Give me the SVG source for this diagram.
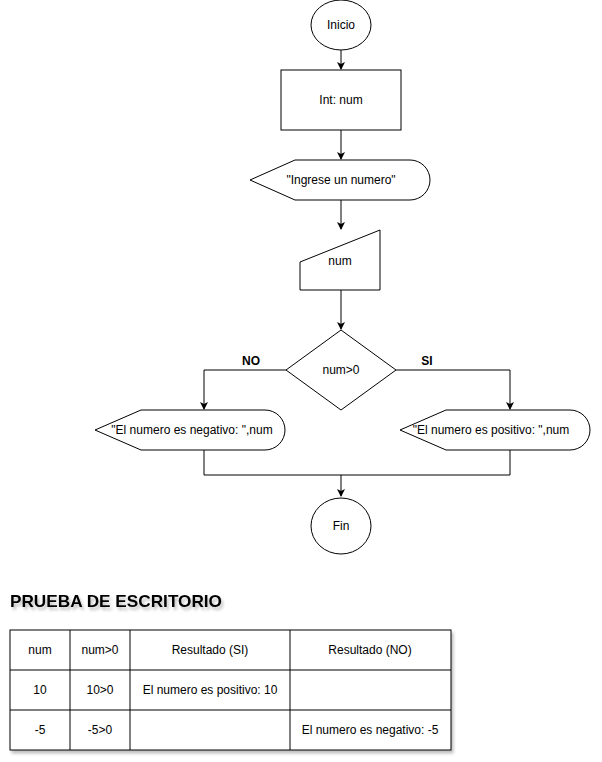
<svg xmlns="http://www.w3.org/2000/svg" width="602" height="762" viewBox="0 0 602 762">
<style>
.s{fill:#fff;stroke:#000;stroke-width:1}
.t{font-family:"Liberation Sans",Arial,sans-serif;font-size:12px;fill:#000;text-anchor:middle;dominant-baseline:central}
.b{font-weight:bold}
.c{fill:none;stroke:#000;stroke-width:1}
.sh{filter:url(#sh)}
</style>
<defs>
<marker id="a" markerWidth="10" markerHeight="10" refX="7" refY="4" orient="auto" markerUnits="userSpaceOnUse"><path d="M0,0 L8,4 L0,8 L2,4 Z" fill="#000"/></marker>
<filter id="sh" x="-10%" y="-10%" width="130%" height="140%"><feDropShadow dx="2" dy="3" stdDeviation="1.5" flood-color="#000" flood-opacity="0.25"/></filter>
</defs>
<rect width="602" height="762" fill="#fff"/>
<g id="connectors">
<path class="c" d="M341,50 V69" marker-end="url(#a)"/>
<path class="c" d="M341,130 V159" marker-end="url(#a)"/>
<path class="c" d="M341,200 V229" marker-end="url(#a)"/>
<path class="c" d="M341,290 V329" marker-end="url(#a)"/>
<path class="c" d="M286,370 H204 V409" marker-end="url(#a)"/>
<path class="c" d="M396,370 H510 V409" marker-end="url(#a)"/>
<path class="c" d="M204,450 V475 H510 V450"/>
<path class="c" d="M341,475 V496" marker-end="url(#a)"/>
<text class="t b" x="251" y="361">NO</text>
<text class="t b" x="427" y="361">SI</text>
</g>
<g id="inicio"><ellipse class="s" cx="341" cy="25" rx="30" ry="25"/><text class="t" x="341" y="25">Inicio</text></g>
<g id="decl"><rect class="s" x="281" y="70" width="120" height="60"/><text class="t" x="341" y="100">Int: num</text></g>
<g id="prompt"><path class="s" d="M250,180 L295,160 H410 A20,20 0 0 1 410,200 H295 Z"/><text class="t" x="341" y="180">"Ingrese un numero"</text></g>
<g id="input"><path class="s" d="M300,262 L380,230 V290 H300 Z"/><text class="t" x="340" y="261">num</text></g>
<g id="cond"><path class="s" d="M341,330 L396,370 L341,410 L286,370 Z"/><text class="t" x="341" y="370">num&gt;0</text></g>
<g id="neg"><path class="s" d="M95,430 L141,410 H265 A20,20 0 0 1 265,450 H141 Z"/><text class="t" x="192" y="430">"El numero es negativo: ",num</text></g>
<g id="pos"><path class="s" d="M400,430 L446,410 H570 A20,20 0 0 1 570,450 H446 Z"/><text class="t" x="491" y="430">"El numero es positivo: ",num</text></g>
<g id="fin"><ellipse class="s" cx="341" cy="526" rx="30" ry="28"/><text class="t" x="341" y="526">Fin</text></g>
<g id="title"><text class="sh" x="10" y="607" font-family="Liberation Sans,Arial,sans-serif" font-size="17" font-weight="bold" textLength="212" lengthAdjust="spacingAndGlyphs">PRUEBA DE ESCRITORIO</text></g>
<g id="table">
<rect class="s sh" x="10" y="630" width="441" height="120"/>
<path class="c" d="M10,670 H451 M10,710 H451 M70,630 V750 M130,630 V750 M290,630 V750"/>
<text class="t" x="40" y="650">num</text><text class="t" x="100" y="650">num&gt;0</text><text class="t" x="210" y="650">Resultado (SI)</text><text class="t" x="370" y="650">Resultado (NO)</text>
<text class="t" x="40" y="690">10</text><text class="t" x="100" y="690">10&gt;0</text><text class="t" x="210" y="690">El numero es positivo: 10</text>
<text class="t" x="40" y="730">-5</text><text class="t" x="100" y="730">-5&gt;0</text><text class="t" x="370" y="730">El numero es negativo: -5</text>
</g>
</svg>
